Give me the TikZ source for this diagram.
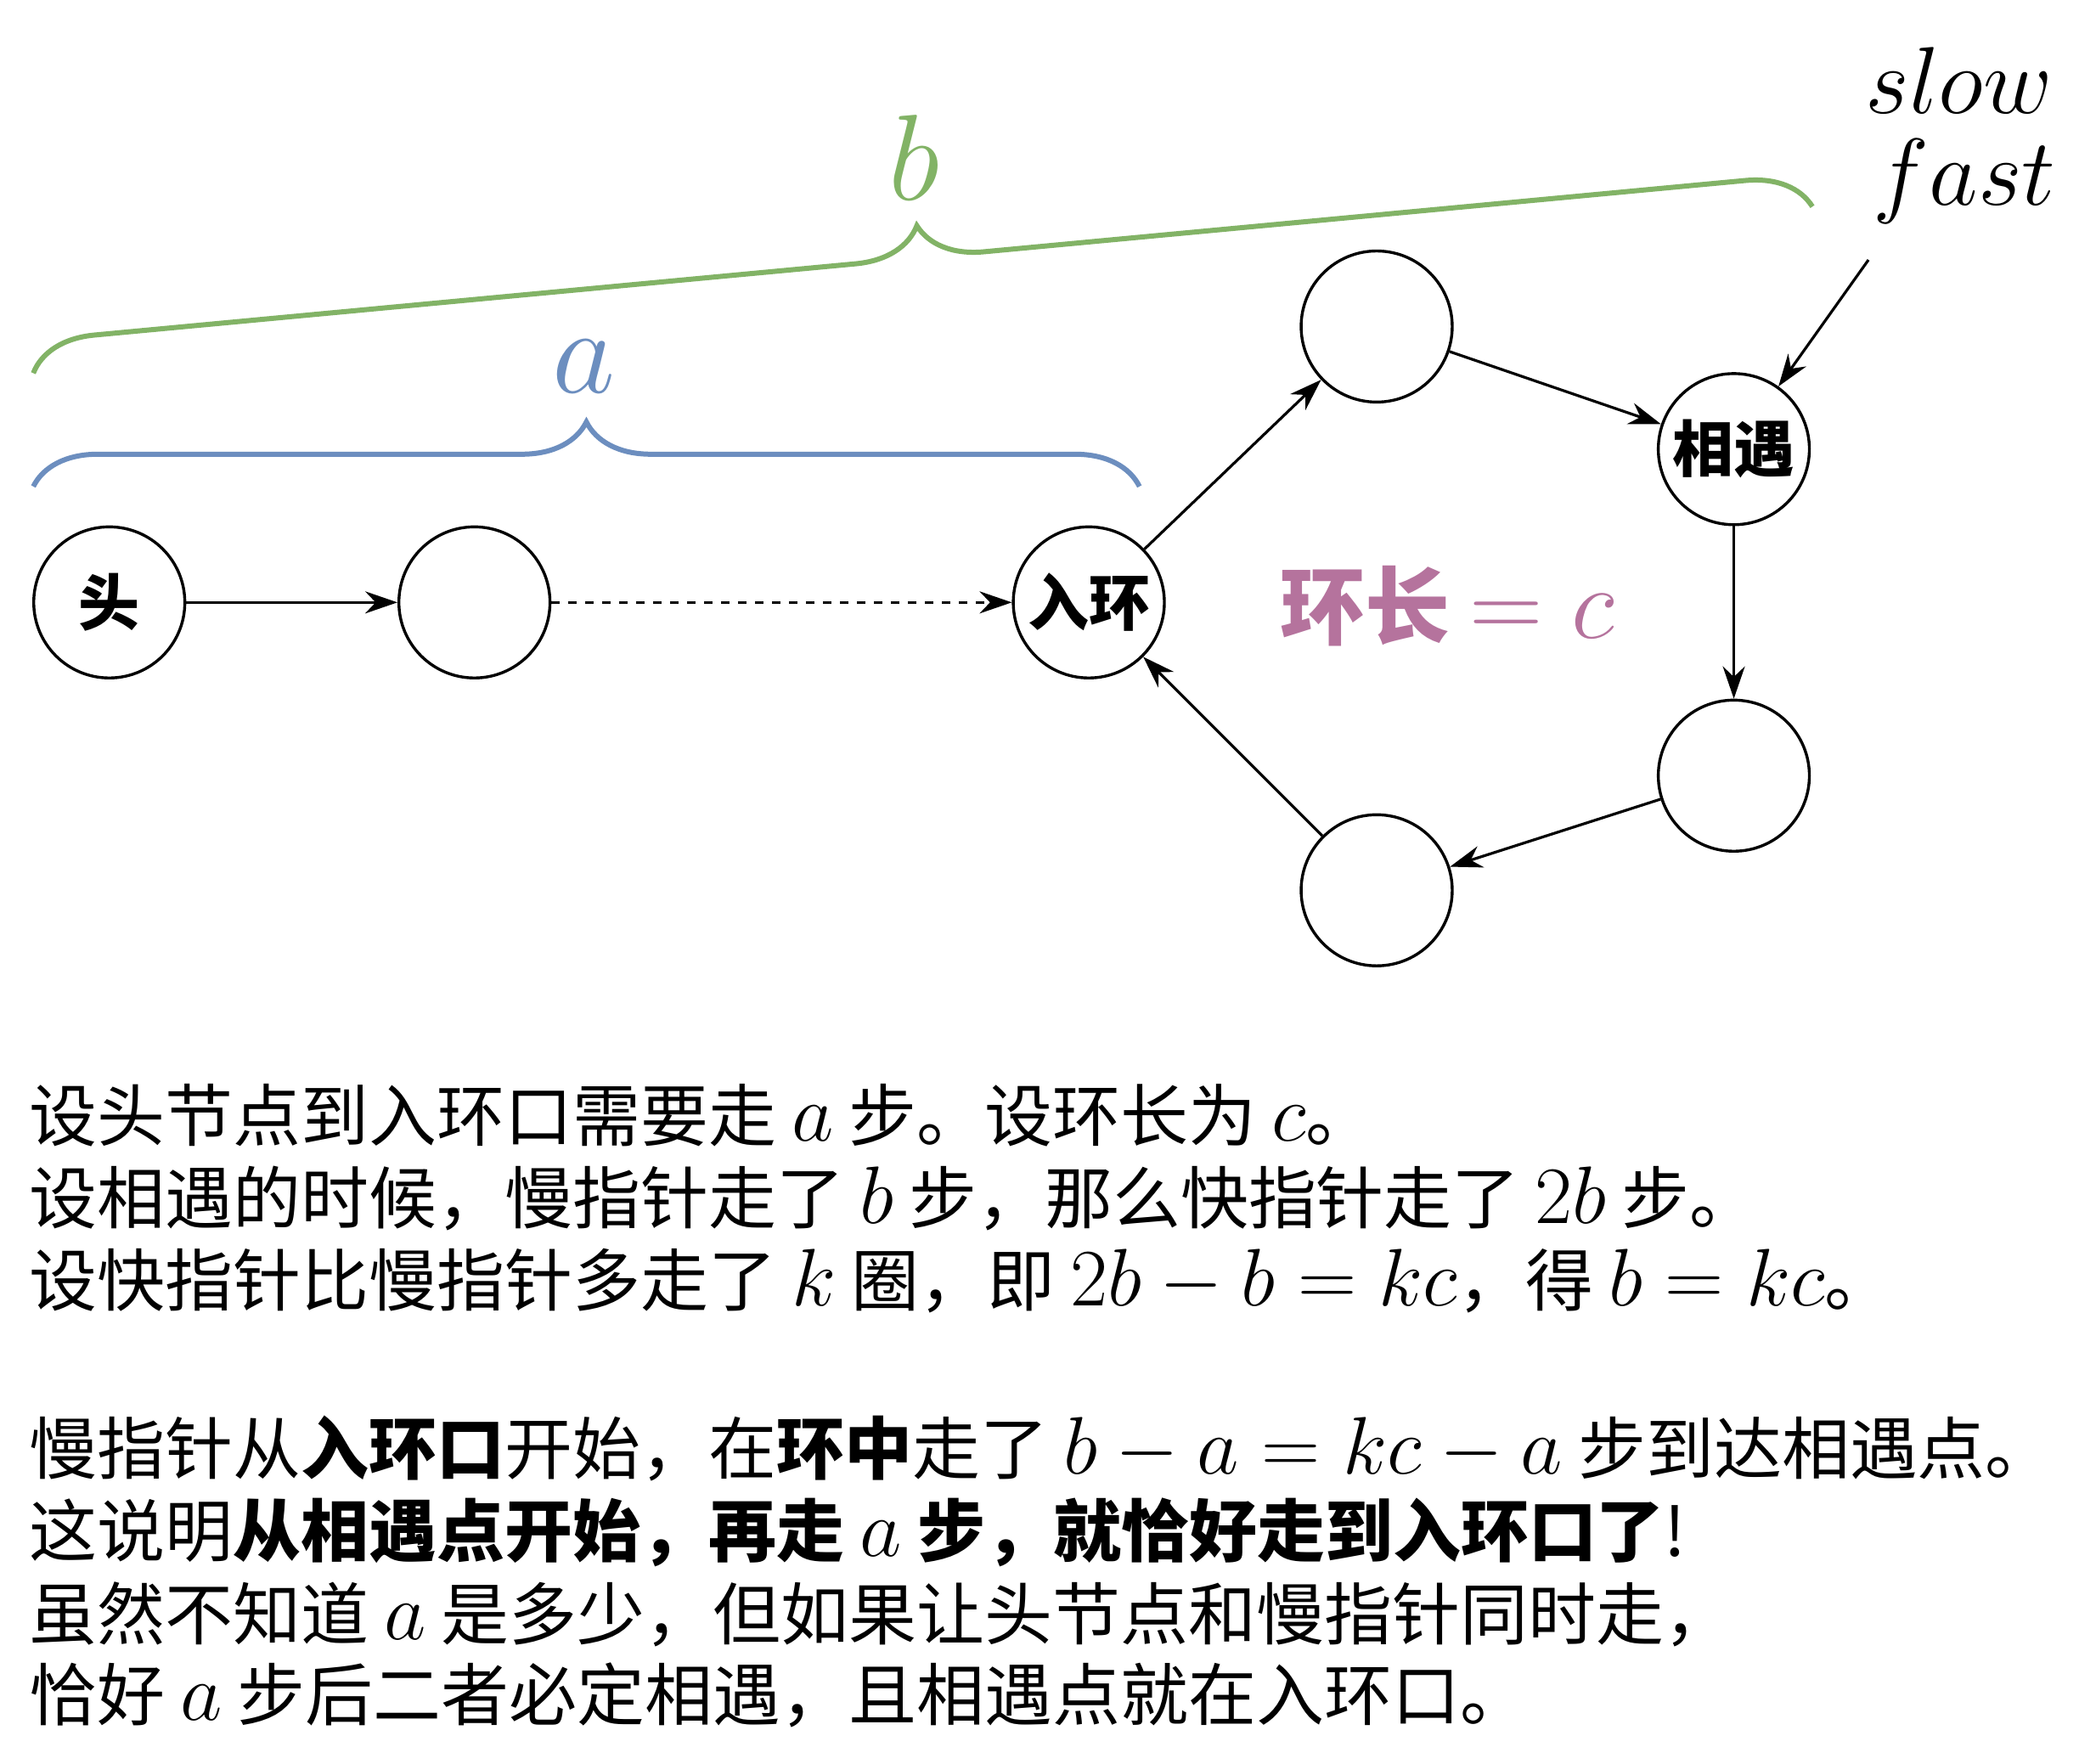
\documentclass[tikz,border=0pt]{standalone}
\usepackage{fix-cm}
\usepackage{fontspec}
\setmainfont{Noto Sans CJK SC}
\usetikzlibrary{decorations.pathreplacing,arrows.meta}
\definecolor{bl}{HTML}{6C8EBF}
\definecolor{gr}{HTML}{82B366}
\definecolor{pk}{HTML}{B5739D}
\newcommand{\mM}[1]{{\fontsize{48}{52}\selectfont$#1$}}
\begin{document}
\begin{tikzpicture}[x=0.785pt,y=-0.785pt,
  nd/.style={circle,draw,line width=1.7pt,minimum size=89pt,inner sep=0pt,font=\fontsize{36}{40}\selectfont\bfseries},
  ar/.style={-{Stealth[length=19pt,width=13pt]},line width=1.6pt},
  br/.style={decorate,decoration={brace,amplitude=38pt,aspect=0.5},line width=3pt},
  txt/.style={anchor=base west,inner sep=0pt,font=\fontsize{40}{44}\selectfont}]
\useasboundingbox (0,0) rectangle (1560,1323);
\node[nd] (h) at (82,452) {头};
\node[nd] (n1) at (356,452) {};
\node[nd] (e) at (817,452) {入环};
\node[nd] (t) at (1033,245) {};
\node[nd] (m) at (1301,337) {相遇};
\node[nd] (r) at (1301,582) {};
\node[nd] (b) at (1033,668) {};
\draw[ar] (h) -- (n1);
\draw[ar,dash pattern=on 5pt off 5pt] (n1) -- (e);
\draw[ar] (e) -- (t);
\draw[ar] (t) -- (m);
\draw[ar] (m) -- (r);
\draw[ar] (r) -- (b);
\draw[ar] (b) -- (e);
\coordinate (sf) at (1402,195);
\draw[ar] (sf) -- (m);
\draw[br,bl] (25,365) -- (855,365);
\draw[br,gr] (25,280) -- (1360,155);
\node[bl,font=\fontsize{72}{76}\selectfont] (la) at (438,275) {$a$};
\node[gr,font=\fontsize{72}{76}\selectfont] (lb) at (686,118) {$b$};
\node[font=\fontsize{56}{60}\selectfont] (sl) at (1470,60) {$slow$};
\node[font=\fontsize{56}{60}\selectfont] (fa) at (1474,136) {$fast$};
\node[pk,font=\fontsize{50}{56}\selectfont\bfseries] (hc) at (1086,455) {环长 {\fontsize{60}{64}\selectfont$=c$}};
\node[txt] (l1) at (22,856) {设头节点到入环口需要走 \mM{a} 步。设环长为 \mM{c}。};
\node[txt] (l2) at (22,918) {设相遇的时候，慢指针走了 \mM{b} 步，那么快指针走了 \mM{2b} 步。};
\node[txt] (l3) at (22,980) {设快指针比慢指针多走了 \mM{k} 圈，即 \mM{2b-b=kc}，得 \mM{b=kc}。};
\node[txt] (l4) at (22,1106) {慢指针从\textbf{入环口}开始，在\textbf{环中}走了 \mM{b-a=kc-a} 步到达相遇点。};
\node[txt] (l5) at (22,1168) {这说明\textbf{从相遇点开始，再走 \mM{a} 步，就恰好走到入环口了}!};
\node[txt] (l6) at (22,1230) {虽然不知道 \mM{a} 是多少，但如果让头节点和慢指针同时走，};
\node[txt] (l7) at (22,1291) {恰好 \mM{a} 步后二者必定相遇，且相遇点就在入环口。};
\end{tikzpicture}
\end{document}
